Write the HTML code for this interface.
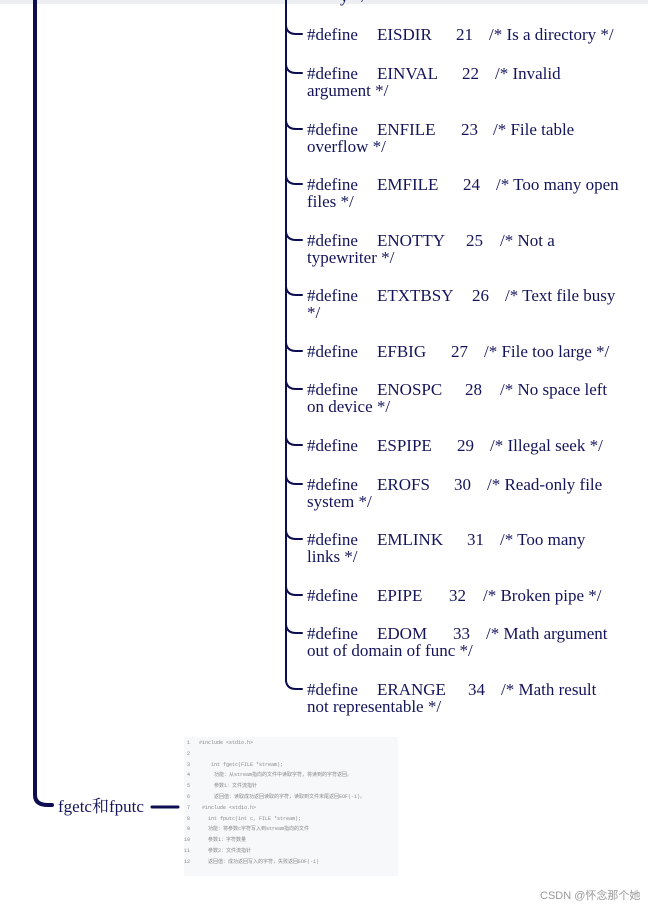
<!DOCTYPE html>
<html><head><meta charset="utf-8"><style>
body{margin:0;width:648px;height:907px;background:#fff;position:relative;overflow:hidden;font-family:"Liberation Serif","Noto Serif CJK SC",serif;color:#14145a}
.t{position:absolute;font-size:17px;line-height:17px;white-space:nowrap}
.top{position:absolute;left:0;top:0;width:648px;height:4px;background:#eceef2}
.code{position:absolute;left:184px;top:737px;width:214px;height:138px;background:#f7f8fa;font-family:"Liberation Mono","Noto Sans CJK SC",monospace;font-size:5px;color:#888;line-height:10.8px}
.code div{white-space:nowrap;height:10.8px}
</style></head><body>
<div class="top"></div>
<svg width="648" height="907" style="position:absolute;left:0;top:0">
<g fill="none" stroke="#0d0d52" stroke-linecap="round">
<path d="M35 0 V795 Q35 805 48 805 H52" stroke-width="4"/>
<path d="M152 807 H178" stroke-width="3"/>
<path d="M286 0 V681" stroke-width="2"/>
<g stroke-width="2">
<path d="M286 26 Q287 34 296 34 H302"/>
<path d="M286 65 Q287 73 296 73 H302"/>
<path d="M286 121 Q287 129 296 129 H302"/>
<path d="M286 176 Q287 184 296 184 H302"/>
<path d="M286 232 Q287 240 296 240 H302"/>
<path d="M286 287 Q287 295 296 295 H302"/>
<path d="M286 343 Q287 351 296 351 H302"/>
<path d="M286 381 Q287 389 296 389 H302"/>
<path d="M286 437 Q287 445 296 445 H302"/>
<path d="M286 476 Q287 484 296 484 H302"/>
<path d="M286 531 Q287 539 296 539 H302"/>
<path d="M286 587 Q287 595 296 595 H302"/>
<path d="M286 625 Q287 633 296 633 H302"/>
<path d="M286 681 Q287 689 296 689 H302"/>
</g></g></svg>
<div class="t" style="left:340px;top:-12px">y */</div>

<div class="t" style="left:307px;top:26px">#define</div><div class="t" style="left:377px;top:26px">EISDIR</div><div class="t" style="left:456px;top:26px">21</div><div class="t" style="left:489px;top:26px">/* Is a directory */</div>

<div class="t" style="left:307px;top:65px">#define</div><div class="t" style="left:377px;top:65px">EINVAL</div><div class="t" style="left:462px;top:65px">22</div><div class="t" style="left:495px;top:65px">/* Invalid</div><div class="t" style="left:307px;top:82px">argument */</div>

<div class="t" style="left:307px;top:121px">#define</div><div class="t" style="left:377px;top:121px">ENFILE</div><div class="t" style="left:461px;top:121px">23</div><div class="t" style="left:493px;top:121px">/* File table</div><div class="t" style="left:307px;top:138px">overflow */</div>

<div class="t" style="left:307px;top:176px">#define</div><div class="t" style="left:377px;top:176px">EMFILE</div><div class="t" style="left:463px;top:176px">24</div><div class="t" style="left:496px;top:176px">/* Too many open</div><div class="t" style="left:307px;top:193px">files */</div>

<div class="t" style="left:307px;top:232px">#define</div><div class="t" style="left:377px;top:232px">ENOTTY</div><div class="t" style="left:466px;top:232px">25</div><div class="t" style="left:500px;top:232px">/* Not a</div><div class="t" style="left:307px;top:249px">typewriter */</div>

<div class="t" style="left:307px;top:287px">#define</div><div class="t" style="left:377px;top:287px">ETXTBSY</div><div class="t" style="left:472px;top:287px">26</div><div class="t" style="left:505px;top:287px">/* Text file busy</div><div class="t" style="left:307px;top:304px">*/</div>

<div class="t" style="left:307px;top:343px">#define</div><div class="t" style="left:377px;top:343px">EFBIG</div><div class="t" style="left:451px;top:343px">27</div><div class="t" style="left:484px;top:343px">/* File too large */</div>

<div class="t" style="left:307px;top:381px">#define</div><div class="t" style="left:377px;top:381px">ENOSPC</div><div class="t" style="left:465px;top:381px">28</div><div class="t" style="left:500px;top:381px">/* No space left</div><div class="t" style="left:307px;top:398px">on device */</div>

<div class="t" style="left:307px;top:437px">#define</div><div class="t" style="left:377px;top:437px">ESPIPE</div><div class="t" style="left:457px;top:437px">29</div><div class="t" style="left:490px;top:437px">/* Illegal seek */</div>

<div class="t" style="left:307px;top:476px">#define</div><div class="t" style="left:377px;top:476px">EROFS</div><div class="t" style="left:454px;top:476px">30</div><div class="t" style="left:487px;top:476px">/* Read-only file</div><div class="t" style="left:307px;top:493px">system */</div>

<div class="t" style="left:307px;top:531px">#define</div><div class="t" style="left:377px;top:531px">EMLINK</div><div class="t" style="left:467px;top:531px">31</div><div class="t" style="left:500px;top:531px">/* Too many</div><div class="t" style="left:307px;top:548px">links */</div>

<div class="t" style="left:307px;top:587px">#define</div><div class="t" style="left:377px;top:587px">EPIPE</div><div class="t" style="left:449px;top:587px">32</div><div class="t" style="left:483px;top:587px">/* Broken pipe */</div>

<div class="t" style="left:307px;top:625px">#define</div><div class="t" style="left:377px;top:625px">EDOM</div><div class="t" style="left:453px;top:625px">33</div><div class="t" style="left:486px;top:625px">/* Math argument</div><div class="t" style="left:307px;top:642px">out of domain of func */</div>

<div class="t" style="left:307px;top:681px">#define</div><div class="t" style="left:377px;top:681px">ERANGE</div><div class="t" style="left:468px;top:681px">34</div><div class="t" style="left:501px;top:681px">/* Math result</div><div class="t" style="left:307px;top:698px">not representable */</div>

<div class="t" style="left:58px;top:798px;font-size:17px">fgetc和fputc</div>

<div class="code" style="padding-top:1px">
<div>&nbsp;1&nbsp;&nbsp;&nbsp;#include &lt;stdio.h&gt;</div>
<div>&nbsp;2</div>
<div>&nbsp;3&nbsp;&nbsp;&nbsp;&nbsp;&nbsp;&nbsp;&nbsp;int fgetc(FILE *stream);</div>
<div>&nbsp;4&nbsp;&nbsp;&nbsp;&nbsp;&nbsp;&nbsp;&nbsp;&nbsp;功能：从stream指向的文件中读取字符，将读到的字符返回。</div>
<div>&nbsp;5&nbsp;&nbsp;&nbsp;&nbsp;&nbsp;&nbsp;&nbsp;&nbsp;参数1：文件流指针</div>
<div>&nbsp;6&nbsp;&nbsp;&nbsp;&nbsp;&nbsp;&nbsp;&nbsp;&nbsp;返回值：读取成功返回读取的字符，读取到文件末尾返回EOF(-1)。</div>
<div>&nbsp;7&nbsp;&nbsp;&nbsp;&nbsp;#include &lt;stdio.h&gt;</div>
<div>&nbsp;8&nbsp;&nbsp;&nbsp;&nbsp;&nbsp;&nbsp;int fputc(int c, FILE *stream);</div>
<div>&nbsp;9&nbsp;&nbsp;&nbsp;&nbsp;&nbsp;&nbsp;功能：将参数c字符写入到stream指向的文件</div>
<div>10&nbsp;&nbsp;&nbsp;&nbsp;&nbsp;&nbsp;参数1：字符数量</div>
<div>11&nbsp;&nbsp;&nbsp;&nbsp;&nbsp;&nbsp;参数2：文件流指针</div>
<div>12&nbsp;&nbsp;&nbsp;&nbsp;&nbsp;&nbsp;返回值：成功返回写入的字符，失败返回EOF(-1)</div>
</div>
<div class="t" style="left:540px;top:888px;font-size:11px;color:#999;font-family:'Liberation Sans','Noto Sans CJK SC',sans-serif">CSDN @怀念那个她</div>
</body></html>
